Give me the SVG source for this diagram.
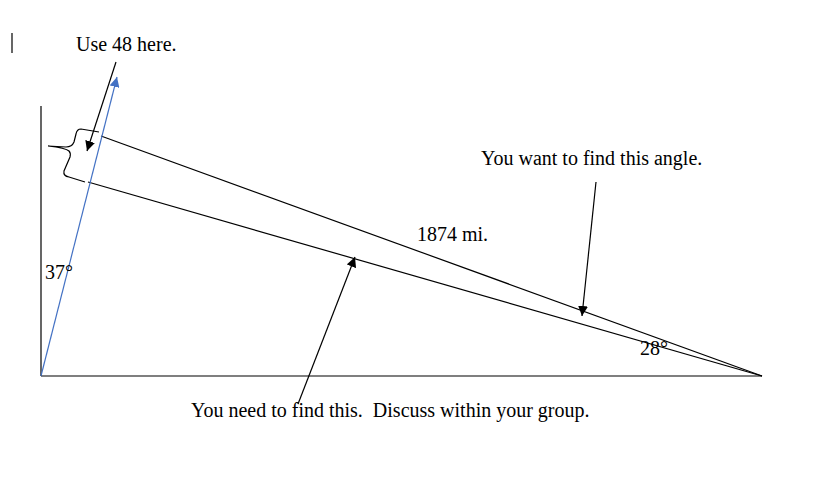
<svg xmlns="http://www.w3.org/2000/svg" width="830" height="494" viewBox="0 0 830 494">
<style>
text{font-family:"Liberation Serif","Times New Roman",serif;font-size:20px;fill:#000;white-space:pre}
.ln{stroke:#000;stroke-width:1.2;fill:none}
.blue{stroke:#4472C4;stroke-width:1.2;fill:none}
</style>
<defs>
<marker id="ah" viewBox="0 0 10 10" refX="10" refY="5" markerWidth="10" markerHeight="10" markerUnits="userSpaceOnUse" orient="auto">
<path d="M0,0 L10,5 L0,10 Z" fill="#000"/>
</marker>
<marker id="ahb" viewBox="0 0 10 10" refX="10" refY="5" markerWidth="10" markerHeight="10" markerUnits="userSpaceOnUse" orient="auto">
<path d="M0,0 L10,5 L0,10 Z" fill="#4472C4"/>
</marker>
</defs>
<rect width="830" height="494" fill="#fff"/>
<line x1="12" y1="33" x2="12" y2="53" stroke="#000" stroke-width="1.2"/>
<g id="triangle">
<line class="ln" x1="41" y1="106" x2="41" y2="376"/>
<line class="ln" x1="41" y1="376" x2="762" y2="376"/>
<line class="ln" x1="101" y1="136" x2="762" y2="376"/>
<line class="ln" x1="88" y1="182" x2="762" y2="376"/>
</g>
<g id="brace">
<path class="ln" d="M99,132 L81,129 Q77,129 76,134 L74,142 Q72,147 66,147 L48,146 Q66,148 69,151 Q71,153 70,157 L64,171 Q63,176 69,177 L85,182"/>
</g>
<g id="blue-ray">
<line class="blue" x1="41" y1="376" x2="117" y2="77" marker-end="url(#ahb)"/>
</g>
<g id="connectors">
<line class="ln" x1="116" y1="62" x2="87" y2="151" marker-end="url(#ah)"/>
<line class="ln" x1="596" y1="182" x2="582" y2="316" marker-end="url(#ah)"/>
<line class="ln" x1="298" y1="404" x2="355" y2="257" marker-end="url(#ah)"/>
</g>
<g id="label-use48"><text x="76" y="51">Use 48 here.</text></g>
<g id="label-angle"><text x="481" y="165">You want to find this angle.</text></g>
<g id="label-dist"><text x="417" y="241">1874 mi.</text></g>
<g id="label-37"><text x="45" y="279">37°</text></g>
<g id="label-28"><text x="640" y="355">28°</text></g>
<g id="label-need"><text x="191" y="417">You need to find this.  Discuss within your group.</text></g>
</svg>
